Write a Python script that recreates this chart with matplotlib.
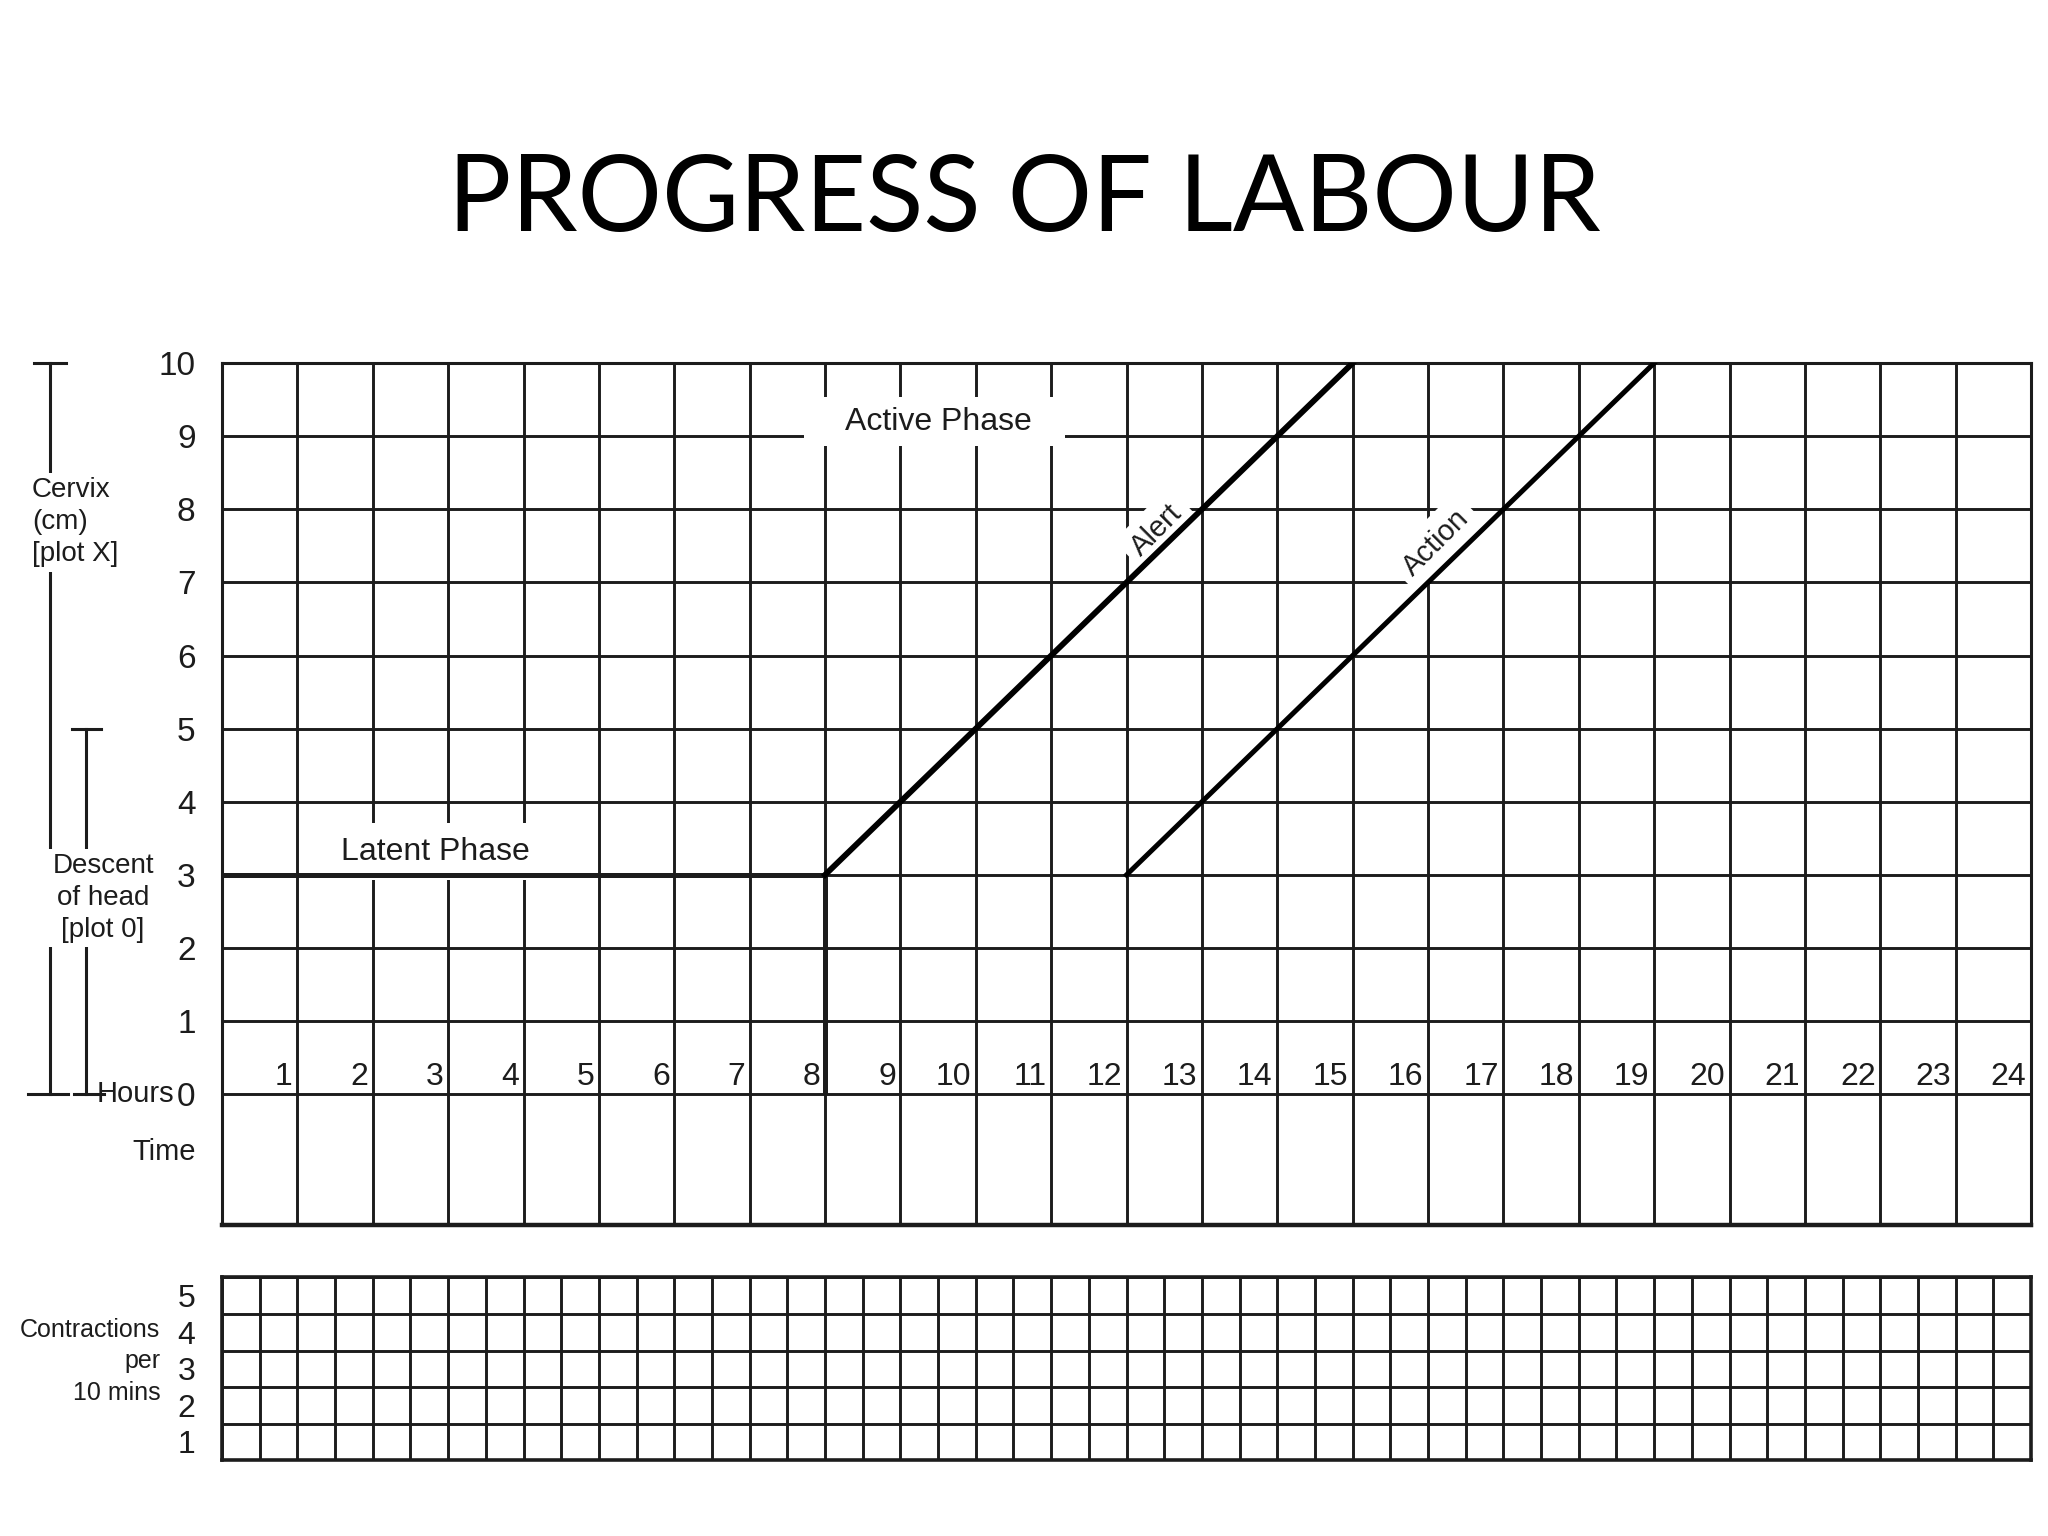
import numpy as np
import matplotlib
matplotlib.use("Agg")
import matplotlib.pyplot as plt
import matplotlib.transforms as mtransforms
from matplotlib.patches import Rectangle

# ======================
# DATA
# ======================
hours = list(range(0, 25))
cervix_cm = list(range(0, 11))
contraction_levels = [1, 2, 3, 4, 5]
half_hours = np.arange(0, 24.5, 0.5)

latent_x = [0, 8]
latent_y = [3, 3]
drop_x = [8, 8]
drop_y = [0, 3]
alert_x = [8, 15]
alert_y = [3, 10]
action_x = [12, 19]
action_y = [3, 10]

plt.rcParams['font.family'] = ['Liberation Sans', 'DejaVu Sans']
INK = '#1c1c1c'

fig = plt.figure(figsize=(20.48, 15.36), dpi=100)
fig.patch.set_facecolor('white')

fig.text(0.5, 0.869, 'PROGRESS OF LABOUR', ha='center', va='center',
         fontsize=76, family=['Lato', 'DejaVu Sans'], color='black')

# ======================
# PARTOGRAPH GRID
# ======================
ax = fig.add_axes([0.1084, 0.2024, 0.8833, 0.5612])
ax.set_xlim(0, 24)
ax.set_ylim(-1.79, 10)
ax.set_xticks(hours)
ax.set_xticklabels([])
ax.set_yticks(cervix_cm)
ax.set_yticklabels([str(v) for v in cervix_cm], fontsize=24)
ax.tick_params(length=0, pad=19, colors=INK)
ax.grid(True, color=INK, lw=2.1)
ax.set_axisbelow(True)
for s in ax.spines.values():
    s.set_color(INK)
    s.set_linewidth(2.2)
ax.spines['bottom'].set_linewidth(3.2)

# hour labels sit just left of each line, above zero
for h in hours[1:]:
    ax.text(h - 0.06, 0.03, str(h), ha='right', va='bottom', fontsize=23, color=INK)

ax.plot(latent_x, latent_y, color=INK, lw=3.6, zorder=5, solid_capstyle='butt')
ax.plot(drop_x, drop_y, color=INK, lw=3.6, zorder=5, solid_capstyle='butt')
ax.plot(alert_x, alert_y, color='black', lw=4.2, zorder=5)
ax.plot(action_x, action_y, color='black', lw=3.6, zorder=5)

box = dict(facecolor='white', edgecolor='none', pad=6)
ax.text(2.83, 3.32, 'Latent Phase', ha='center', va='center', fontsize=23,
        color=INK, zorder=4, bbox=dict(facecolor='white', edgecolor='none', pad=10))
# white gap behind the active phase label
ax.add_patch(Rectangle((7.72, 8.86), 3.46, 0.68, facecolor='white', edgecolor='none', zorder=3))
ax.text(9.5, 9.2, 'Active Phase', ha='center', va='center', fontsize=23,
        color=INK, zorder=4)
ax.text(12.4, 7.72, 'Alert', ha='center', va='center', fontsize=21, rotation=45,
        rotation_mode='anchor', color=INK, zorder=4, bbox=box)
ax.text(16.1, 7.55, 'Action', ha='center', va='center', fontsize=21, rotation=45,
        rotation_mode='anchor', color=INK, zorder=4, bbox=box)

# left side brackets and labels
tr = mtransforms.blended_transform_factory(ax.transAxes, ax.transData)
ax.plot([-0.0953, -0.0953], [0, 10], color=INK, lw=2.2, transform=tr, clip_on=False)
ax.plot([-0.1040, -0.0860], [10, 10], color=INK, lw=2.2, transform=tr, clip_on=False)
ax.plot([-0.1070, -0.0852], [0, 0], color=INK, lw=2.2, transform=tr, clip_on=False)
ax.plot([-0.0751, -0.0751], [0, 5], color=INK, lw=2.2, transform=tr, clip_on=False)
ax.plot([-0.0830, -0.0670], [5, 5], color=INK, lw=2.2, transform=tr, clip_on=False)
ax.plot([-0.0816, -0.0650], [0, 0], color=INK, lw=2.2, transform=tr, clip_on=False)

ax.text(-0.1050, 7.82, 'Cervix\n(cm)\n[plot X]', transform=tr, ha='left', va='center',
        fontsize=20, linespacing=1.3, color=INK,
        bbox=dict(facecolor='white', edgecolor='none', pad=3))
ax.text(-0.0657, 2.68, 'Descent\nof head\n[plot 0]', transform=tr, ha='center',
        va='center', fontsize=20, linespacing=1.3, color=INK,
        bbox=dict(facecolor='white', edgecolor='none', pad=3))
ax.text(-0.0262, 0, 'Hours', transform=tr, ha='right', va='center', fontsize=21, color=INK)
ax.text(-0.0144, -0.79, 'Time', transform=tr, ha='right', va='center', fontsize=21, color=INK)

# ======================
# CONTRACTIONS GRID
# ======================
ax2 = fig.add_axes([0.1084, 0.0493, 0.8833, 0.1191])
ax2.set_xlim(0, 24)
ax2.set_ylim(0, 5)
ax2.set_xticks(half_hours)
ax2.set_xticklabels([])
ax2.set_yticks(range(6))
ax2.set_yticklabels([])
ax2.set_yticks([c - 0.5 for c in contraction_levels], minor=True)
ax2.set_yticklabels([str(c) for c in contraction_levels], minor=True, fontsize=23)
ax2.tick_params(which='both', length=0, pad=19, colors=INK)
ax2.grid(True, color=INK, lw=2.1)
ax2.set_axisbelow(True)
for s in ax2.spines.values():
    s.set_color(INK)
    s.set_linewidth(2.6)

ax2.text(-0.034, 2.71, 'Contractions\nper\n10 mins', transform=ax2.get_yaxis_transform(),
         ha='right', va='center', multialignment='right', fontsize=18,
         linespacing=1.4, color=INK)

fig.savefig('out.png', dpi=100, facecolor='white')
